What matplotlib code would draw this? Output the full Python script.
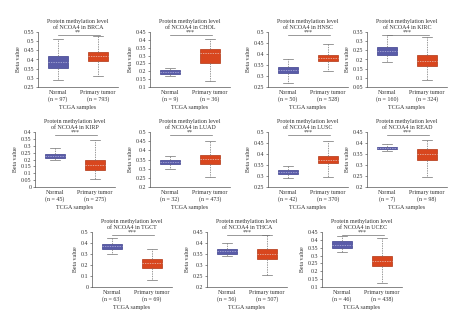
import matplotlib
matplotlib.use("Agg")
import matplotlib.pyplot as plt

# ------------------------------
# Data: box stats per cancer type (whislo, q1, med, q3, whishi)
# ------------------------------
cancers = ["BRCA", "CHOL", "HNSC", "KIRC", "KIRP", "LUAD",
           "LUSC", "READ", "TGCT", "THCA", "UCEC"]

normal_stats = [
    [0.29, 0.354, 0.386, 0.417, 0.514],
    [0.171, 0.184, 0.196, 0.209, 0.219],
    [0.268, 0.313, 0.328, 0.343, 0.377],
    [0.186, 0.226, 0.245, 0.266, 0.335],
    [0.196, 0.211, 0.225, 0.240, 0.283],
    [0.300, 0.326, 0.336, 0.347, 0.368],
    [0.290, 0.310, 0.318, 0.329, 0.347],
    [0.362, 0.372, 0.378, 0.384, 0.394],
    [0.297, 0.348, 0.370, 0.388, 0.448],
    [0.341, 0.352, 0.364, 0.374, 0.402],
    [0.323, 0.350, 0.369, 0.390, 0.425],
]

tumor_stats = [
    [0.312, 0.394, 0.417, 0.441, 0.530],
    [0.140, 0.251, 0.318, 0.345, 0.404],
    [0.323, 0.368, 0.383, 0.395, 0.445],
    [0.086, 0.163, 0.194, 0.226, 0.323],
    [0.060, 0.125, 0.163, 0.199, 0.343],
    [0.255, 0.323, 0.354, 0.377, 0.452],
    [0.295, 0.358, 0.373, 0.392, 0.460],
    [0.245, 0.323, 0.350, 0.375, 0.414],
    [0.067, 0.176, 0.218, 0.258, 0.348],
    [0.256, 0.329, 0.352, 0.374, 0.435],
    [0.125, 0.231, 0.265, 0.300, 0.414],
]

n_normal = [97, 9, 50, 160, 45, 32, 42, 7, 63, 56, 46]
n_tumor = [793, 36, 528, 324, 275, 473, 370, 98, 69, 507, 438]
stars = ["**", "***", "***", "***", "***", "**", "***", "***", "***", "***", "***"]

y_limits = [(0.25, 0.55), (0.1, 0.45), (0.25, 0.5), (0.05, 0.35),
            (0.0, 0.4), (0.2, 0.5), (0.25, 0.5), (0.2, 0.45),
            (0.0, 0.5), (0.2, 0.45), (0.1, 0.45)]
y_steps = [0.05, 0.05, 0.05, 0.05, 0.05, 0.05, 0.05, 0.05, 0.1, 0.05, 0.05]

# ------------------------------
# Layout (pixels: left, top, width, height)
# ------------------------------
W, H = 474, 327
panel_px = [
    (38, 32), (150, 32), (268, 32), (367, 32),
    (35, 132), (150, 132), (268, 132), (367, 132),
    (92, 232), (207, 232), (322, 232),
]
AX_W, AX_H = 80, 55

BLUE = "#5a5ca8"
BLUE_EDGE = "#3b3d8c"
RED = "#d8461e"
RED_EDGE = "#b03412"
FONT = "Liberation Serif"
FS = 4.3

plt.rcParams["font.family"] = FONT
plt.rcParams["axes.linewidth"] = 0.5

fig = plt.figure(figsize=(W / 100, H / 100), dpi=100)


def to_stats(vals, label):
    lo, q1, med, q3, hi = vals
    return {"whislo": lo, "q1": q1, "med": med, "q3": q3, "whishi": hi,
            "fliers": [], "label": label}


def draw_panel(i):
    left, top = panel_px[i]
    ax = fig.add_axes([left / W, 1 - (top + AX_H) / H, AX_W / W, AX_H / H])

    stats = [to_stats(normal_stats[i], "Normal\n(n = %d)" % n_normal[i]),
             to_stats(tumor_stats[i], "Primary tumor\n(n = %d)" % n_tumor[i])]
    bp = ax.bxp(stats, positions=[1, 2], widths=0.5, patch_artist=True,
                showfliers=False,
                whiskerprops=dict(color="#707070", linestyle=(0, (2, 1.5)), linewidth=0.5),
                capprops=dict(color="#707070", linewidth=0.5),
                medianprops=dict(color="#e8c8c0", linestyle=(0, (2, 1.5)), linewidth=0.5),
                boxprops=dict(linewidth=0.5))
    for patch, fc, ec in zip(bp["boxes"], [BLUE, RED], [BLUE_EDGE, RED_EDGE]):
        patch.set_facecolor(fc)
        patch.set_edgecolor(ec)
    bp["medians"][0].set_color("#b8b8e0")

    lo, hi = y_limits[i]
    ax.set_ylim(lo, hi)
    ax.set_xlim(0.5, 2.5)
    step = y_steps[i]
    ticks = [round(lo + k * step, 2) for k in range(int(round((hi - lo) / step)) + 1)]
    ax.set_yticks(ticks)
    ax.set_yticklabels(["%g" % t for t in ticks])

    # significance bar
    span = hi - lo
    ax.plot([1, 2.05], [hi - 0.05 * span] * 2, color="#707070", linewidth=0.5,
            clip_on=False)
    ax.text(1.5, hi - 0.045 * span, stars[i], ha="center", va="bottom",
            fontsize=FS, color="#333333")

    for side in ["top", "right"]:
        ax.spines[side].set_visible(False)
    for side in ["left", "bottom"]:
        ax.spines[side].set_color("#555555")
    ax.tick_params(axis="both", labelsize=FS, length=1.5, width=0.4,
                   pad=1, colors="#333333")
    ax.tick_params(axis="x", length=0, pad=2)

    ax.set_title("Protein methylation level\nof NCOA4 in %s" % cancers[i],
                 fontsize=FS, pad=2, linespacing=1.3, color="#333333")
    ax.set_ylabel("Beta value", fontsize=FS, labelpad=2, color="#333333")
    ax.set_xlabel("TCGA samples", fontsize=FS, labelpad=2, color="#333333")
    for lbl in ax.get_xticklabels():
        lbl.set_linespacing(1.4)


for i in range(len(cancers)):
    draw_panel(i)

fig.savefig("out.png", dpi=100, facecolor="white")
